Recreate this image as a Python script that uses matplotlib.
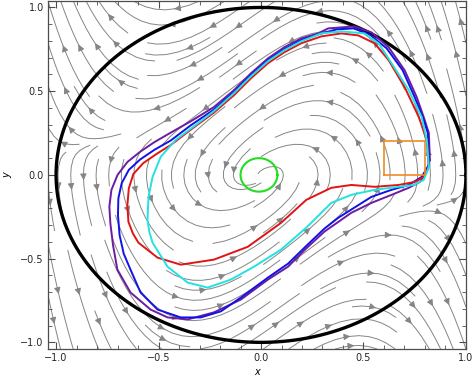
import matplotlib.pyplot as plt
import numpy as np
from matplotlib.ticker import MultipleLocator

# closed curves (counter-clockwise, starting at the right corner)
purple_x = [0.824, 0.819, 0.794, 0.760, 0.701, 0.623, 0.539, 0.456, 0.392, 0.328, 0.279, 0.196,
            0.113, 0.034, -0.049, -0.132, -0.230, -0.343, -0.441, -0.520, -0.590, -0.652, -0.700,
            -0.730, -0.740, -0.735, -0.722, -0.701, -0.637, -0.539, -0.456, -0.358, -0.230, -0.098,
            0.034, 0.132, 0.220, 0.309, 0.441, 0.539, 0.637, 0.721, 0.775, 0.809]
purple_y = [0.089, 0.250, 0.345, 0.464, 0.625, 0.762, 0.851, 0.887, 0.881, 0.875, 0.845, 0.815,
            0.762, 0.696, 0.607, 0.506, 0.405, 0.320, 0.252, 0.196, 0.138, 0.077, 0.000,
            -0.090, -0.190, -0.290, -0.420, -0.565, -0.702, -0.804, -0.851, -0.863, -0.821, -0.744,
            -0.625, -0.548, -0.440, -0.339, -0.226, -0.167, -0.119, -0.077, -0.042, 0.018]

blue_x = [0.819, 0.814, 0.789, 0.750, 0.691, 0.613, 0.529, 0.451, 0.368, 0.279, 0.196, 0.113,
          0.034, -0.049, -0.132, -0.230, -0.343, -0.441, -0.520, -0.590, -0.645, -0.680, -0.696,
          -0.698, -0.690, -0.670, -0.637, -0.588, -0.505, -0.392, -0.294, -0.196, -0.098, 0.034,
          0.132, 0.220, 0.309, 0.377, 0.539, 0.637, 0.721, 0.784]
blue_y = [0.060, 0.250, 0.345, 0.464, 0.625, 0.756, 0.839, 0.875, 0.869, 0.839, 0.804, 0.750,
          0.685, 0.595, 0.494, 0.390, 0.296, 0.205, 0.150, 0.092, 0.030, -0.050, -0.140,
          -0.240, -0.360, -0.470, -0.565, -0.702, -0.804, -0.851, -0.851, -0.815, -0.732, -0.613,
          -0.530, -0.425, -0.321, -0.256, -0.131, -0.089, -0.060, -0.012]

red_x = [0.819, 0.809, 0.770, 0.701, 0.623, 0.554, 0.475, 0.392, 0.294, 0.196, 0.113, 0.034,
         -0.049, -0.132, -0.230, -0.343, -0.441, -0.510, -0.575, -0.623, -0.645, -0.652, -0.647,
         -0.625, -0.598, -0.505, -0.392, -0.230, -0.064, 0.098, 0.221, 0.343, 0.441, 0.554,
         0.672, 0.750, 0.794]
red_y = [0.048, 0.208, 0.345, 0.524, 0.685, 0.786, 0.833, 0.845, 0.827, 0.786, 0.732, 0.667,
         0.577, 0.476, 0.372, 0.270, 0.178, 0.125, 0.070, 0.005, -0.080, -0.180, -0.280,
         -0.350, -0.405, -0.494, -0.536, -0.506, -0.429, -0.286, -0.149, -0.077, -0.060, -0.071,
         -0.060, -0.042, -0.012]

cyan_x = [0.819, 0.809, 0.784, 0.721, 0.637, 0.574, 0.505, 0.392, 0.294, 0.196, 0.113, 0.034,
          -0.049, -0.132, -0.230, -0.319, -0.417, -0.490, -0.529, -0.549, -0.554, -0.545, -0.529,
          -0.456, -0.358, -0.260, -0.147, -0.034, 0.098, 0.221, 0.343, 0.441, 0.554, 0.672, 0.745,
          0.794]
cyan_y = [0.048, 0.208, 0.345, 0.506, 0.667, 0.786, 0.845, 0.857, 0.845, 0.798, 0.744, 0.679,
          0.589, 0.488, 0.381, 0.298, 0.208, 0.107, -0.012, -0.131, -0.268, -0.340, -0.405,
          -0.548, -0.643, -0.673, -0.625, -0.548, -0.446, -0.315, -0.167, -0.119, -0.089, -0.071,
          -0.060, -0.030]

curves = [
    (purple_x, purple_y, "#6c1ca2"),
    (blue_x, blue_y, "#1212e6"),
    (red_x, red_y, "#e01414"),
    (cyan_x, cyan_y, "#22e2e2"),
]

green_center = (-0.01, 0.0)
green_radius = (0.09, 0.10)
box_x = [0.6, 0.8]
box_y = [0.0, 0.2]


def field(x, y):
    # reversed Van der Pol, rescaled to the plotted window
    X, Y = 2.5 * x, 3.0 * y
    dX = -Y
    dY = X + (X**2 - 1) * Y
    return dX / 2.5, dY / 3.0


fig = plt.figure(figsize=(4.74, 3.79), dpi=100)
ax = fig.add_axes([0.101, 0.079, 0.882, 0.919])

gx = np.linspace(-1.04, 1.0, 80)
gy = np.linspace(-1.04, 1.04, 80)
GX, GY = np.meshgrid(gx, gy)
U, V = field(GX, GY)
ax.streamplot(gx, gy, U, V, density=1.15, color="#858585", linewidth=0.7,
              arrowsize=0.95, maxlength=0.6, zorder=1)

t = np.linspace(0, 2 * np.pi, 400)
ax.plot(np.cos(t), np.sin(t), color="black", linewidth=2.4, zorder=3)

for cx, cy, col in curves:
    ax.plot(cx + cx[:1], cy + cy[:1], color=col, linewidth=1.4,
            solid_joinstyle="round", zorder=4)

ax.plot(green_center[0] + green_radius[0] * np.cos(t),
        green_center[1] + green_radius[1] * np.sin(t),
        color="#22dd22", linewidth=1.5, zorder=4)
ax.plot([box_x[0], box_x[1], box_x[1], box_x[0], box_x[0]],
        [box_y[0], box_y[0], box_y[1], box_y[1], box_y[0]],
        color="#f08a24", linewidth=1.2, zorder=4)

ax.set_xlim(-1.04, 1.0)
ax.set_ylim(-1.04, 1.04)
ax.xaxis.set_major_locator(MultipleLocator(0.5))
ax.yaxis.set_major_locator(MultipleLocator(0.5))
ax.xaxis.set_minor_locator(MultipleLocator(0.1))
ax.yaxis.set_minor_locator(MultipleLocator(0.1))
ax.tick_params(which="both", direction="in", top=True, right=True,
               color="0.3", labelsize=7, labelcolor="0.15", pad=3)
ax.tick_params(which="major", length=5, width=0.8)
ax.tick_params(which="minor", length=3, width=0.6)
for s in ax.spines.values():
    s.set_color("0.3")
    s.set_linewidth(0.9)

ax.set_xlabel("x", fontsize=7, style="italic", labelpad=3)
ax.set_ylabel("y", fontsize=7, style="italic", labelpad=6)

fig.savefig("out.png", dpi=100)
